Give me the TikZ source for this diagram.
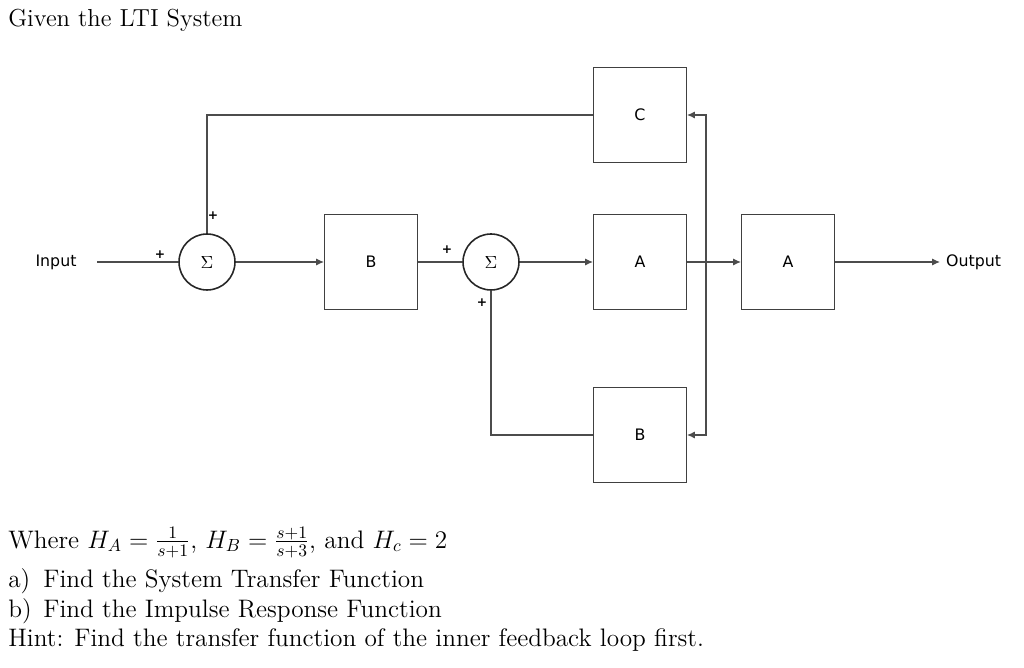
\documentclass[tikz,border=0pt]{standalone}
\usepackage{fontspec}
\newfontfamily\diagfont{DejaVu Sans}
\usetikzlibrary{positioning,arrows.meta}

\begin{document}
\begin{tikzpicture}[x=0.02cm, y=-0.02cm,
  every node/.style={font=\diagfont\fontsize{9}{11}\selectfont},
  block/.style={draw=black!75, line width=0.6pt, minimum width=1.86cm, minimum height=1.9cm},
  sumnode/.style={draw=black!85, circle, line width=0.9pt, minimum size=1.12cm, inner sep=0pt, font=\fontsize{10}{12}\selectfont},
  sign/.style={inner sep=0pt, font=\diagfont\bfseries\fontsize{7}{8}\selectfont},
  wire/.style={draw=black!70, line width=0.6pt},
  arr/.style={wire, -{Latex[length=4.5pt,width=4pt]}},
  txt/.style={anchor=base west, inner sep=0pt, font=\fontsize{14.4}{16}\selectfont}]
\useasboundingbox (0,0) rectangle (1024,668);

% question text
\node (title) [txt, font=\fontsize{14}{16}\selectfont] at (8,27) {Given the LTI System};

% blocks
\node (sumA) [sumnode] at (207,262) {$\Sigma$};
\node (blkB) [block] at (371,262) {B};
\node (sumB) [sumnode] at (491,262) {$\Sigma$};
\node (blkA) [block] at (640,262) {A};
\node (blkC) [block] at (640,115) {C};
\node (blkBb) [block] at (640,435) {B};
\node (blkAo) [block] at (788,262) {A};
\node (in) at (56,262) {Input};
\node (out) [anchor=west] at (940,262) {Output};
\coordinate (start) at (97,262);
\coordinate (fbtop) at (706,115);
\coordinate (fbbot) at (706,435);

% forward path
\draw[wire] (start) -- (sumA);
\draw[arr] (sumA) -- (blkB);
\draw[wire] (blkB) -- (sumB);
\draw[arr] (sumB) -- (blkA);
\draw[arr] (blkA) -- (blkAo);
\draw[arr] (blkAo) -- (out);

% feedback paths
\draw[wire, {Latex[length=4.5pt,width=4pt]}-{Latex[length=4.5pt,width=4pt]}] (blkC.east) -- (fbtop) -- (fbbot) -- (blkBb.east);
\draw[wire] (blkC.west) -| (sumA.north);
\draw[wire] (blkBb.west) -| (sumB.south);

% signs
\node (pA1) [sign] at (160,255) {+};
\node (pA2) [sign] at (213,216) {+};
\node (pB1) [sign] at (447,250) {+};
\node (pB2) [sign] at (482,303) {+};

\node (given) [txt] at (8,548) {Where $H_{A}=\frac{1}{s+1}$, $H_{B}=\frac{s+1}{s+3}$, and $H_{c}=2$};
\node (qa) [txt] at (8,587) {\makebox[0.7cm][l]{a)}Find the System Transfer Function};
\node (qb) [txt] at (8,617) {\makebox[0.7cm][l]{b)}Find the Impulse Response Function};
\node (hint) [txt] at (8,646) {Hint: Find the transfer function of the inner feedback loop first.};
\end{tikzpicture}
\end{document}
